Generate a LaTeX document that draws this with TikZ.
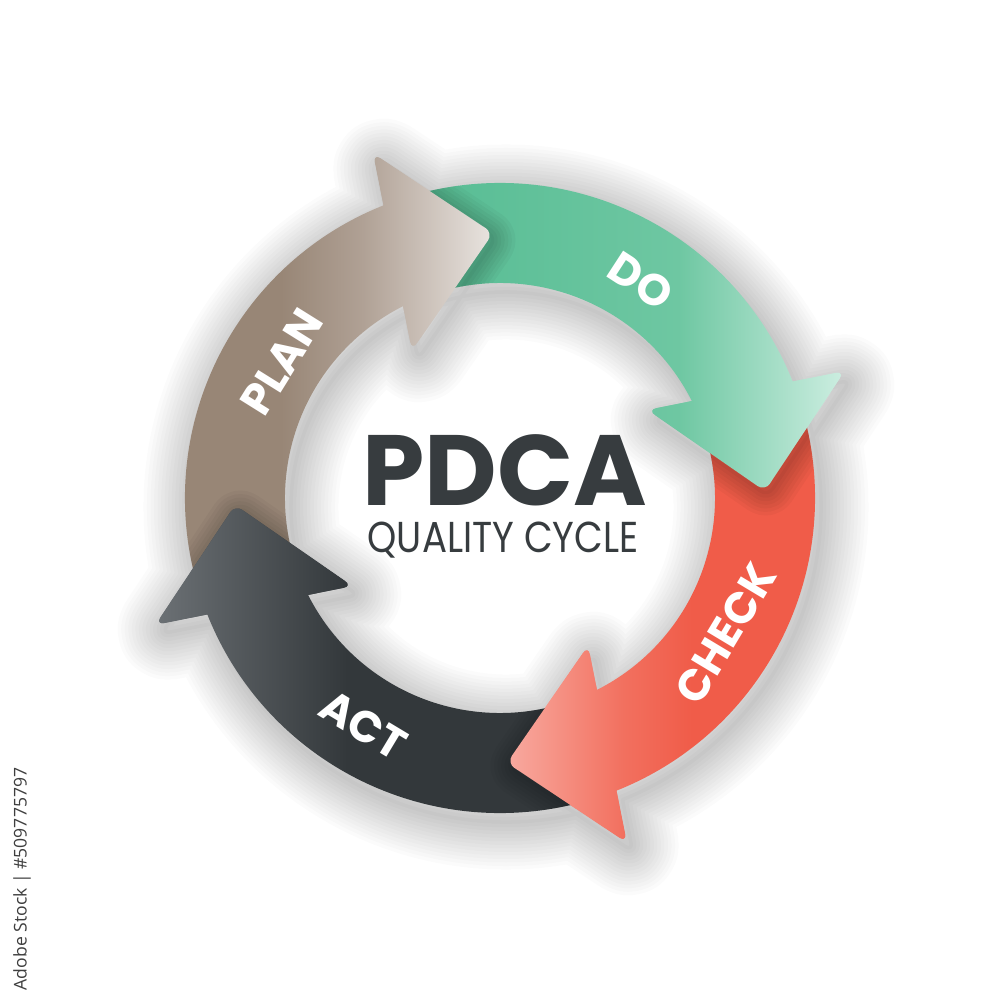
\documentclass[tikz,border=0pt]{standalone}
\usepackage{fontspec}
\usepackage{xcolor}
\usetikzlibrary{calc}
\newfontfamily\popfont{Poppins}
\newfontfamily\popnarrow{Poppins}[FakeStretch=0.86]
\newfontfamily\sidefont{Open Sans}
\definecolor{plandark}{RGB}{152,134,118}
\definecolor{planmid}{RGB}{176,161,149}
\definecolor{planlight}{RGB}{233,228,224}
\definecolor{dogreen}{RGB}{86,188,147}
\definecolor{domid}{RGB}{110,199,162}
\definecolor{dolight}{RGB}{205,238,225}
\definecolor{checkred}{RGB}{240,92,73}
\definecolor{checkmid}{RGB}{242,112,95}
\definecolor{checklight}{RGB}{248,170,160}
\definecolor{actdark}{RGB}{51,56,59}
\definecolor{actlight}{RGB}{108,113,117}
\definecolor{textdark}{RGB}{55,60,63}
\definecolor{sidegray}{RGB}{62,62,62}
\pgfdeclarehorizontalshading{planfill}{100bp}{color(0bp)=(plandark); color(25bp)=(plandark); color(44bp)=(plandark); color(56bp)=(planmid); color(75bp)=(planlight); color(100bp)=(planlight)}
\pgfdeclarehorizontalshading{dofill}{100bp}{color(0bp)=(dogreen); color(25bp)=(dogreen); color(56bp)=(domid); color(75bp)=(dolight); color(100bp)=(dolight)}
\pgfdeclarehorizontalshading{checkfill}{100bp}{color(0bp)=(checklight); color(25bp)=(checklight); color(42bp)=(checkmid); color(52bp)=(checkred); color(75bp)=(checkred); color(100bp)=(checkred)}
\pgfdeclarehorizontalshading{actfill}{100bp}{color(0bp)=(actlight); color(25bp)=(actlight); color(47bp)=(actdark); color(75bp)=(actdark); color(100bp)=(actdark)}
% one ring arrow, #1 = angle offset (PLAN = 0)
\newcommand{\pdcaarrow}[1]{(#1+197:315) arc[start angle=#1+197, end angle=#1+111.7, radius=315]
  [rounded corners=2.5pt] -- (#1+110.2:367) -- (#1+91.5:265) -- (#1+120.8:172) [sharp corners] -- (#1+116.8:215)
  arc[start angle=#1+116.8, end angle=#1+197, radius=215] -- cycle}
% the head alone
\newcommand{\pdcahead}[1]{(#1+111.7:315) [rounded corners=2.5pt] -- (#1+110.2:367) -- (#1+91.5:265) -- (#1+120.8:172) [sharp corners] -- (#1+116.8:215) -- cycle}

\begin{document}
\begin{tikzpicture}[x=0.01cm, y=0.01cm,
    phaselabel/.style={text=white, font=\popfont\bfseries\fontsize{12.5}{13}\selectfont, inner sep=0pt},
    softshadow/.style={black, line join=round}]
  % Canvas
  \fill[white] (-500,-502) rectangle (500,498);
  \useasboundingbox (-500,-502) rectangle (500,498);

  % Soft shadow of the ring
  \begin{scope}[shift={(6,-9)}]
    \foreach \w in {1,3,...,27}
      \draw[softshadow, opacity=0.016, line width=\w pt]
        \pdcaarrow{0} \pdcaarrow{-90} \pdcaarrow{-180} \pdcaarrow{90};
  \end{scope}

  % Arrows
  \shade[shading=planfill] \pdcaarrow{0};
  \shade[shading=dofill] \pdcaarrow{-90};
  \shade[shading=checkfill] \pdcaarrow{-180};
  \shade[shading=actfill] \pdcaarrow{90};

  % Heads on top of the next band
  \foreach \o/\s/\n in {0/planfill/-90, -90/dofill/-180, -180/checkfill/90, 90/actfill/0}{
    \begin{scope}
      \clip \pdcaarrow{\n};
      \foreach \w in {1,3,...,13}
        \draw[softshadow, opacity=0.03, line width=\w pt, shift={(3,-5)}] \pdcahead{\o};
    \end{scope}
    \begin{scope}
      \clip \pdcahead{\o};
      \shade[shading=\s] \pdcaarrow{\o};
    \end{scope}
  }

  % Phase labels
  \node[phaselabel, rotate=58] (plan) at (148:257) {PLAN};
  \node[phaselabel, rotate=-33] (do) at (57:259) {DO};
  \node[phaselabel, rotate=59] (check) at (-31:263) {CHECK};
  \node[phaselabel, rotate=-31] (act) at (239:265) {ACT};

  % Title
  \node[text=textdark, anchor=base, inner sep=0pt, font=\popfont\bfseries\fontsize{28.4}{29}\selectfont] (title) at (5,-7) {PDCA};
  \node[text=textdark, anchor=base, inner sep=0pt, font=\popnarrow\fontsize{12.3}{13}\selectfont] (subtitle) at (3,-54) {QUALITY CYCLE};

  % Stock id
  \node[text=sidegray, rotate=90, anchor=east, inner sep=0pt, font=\sidefont\fontsize{5}{5}\selectfont] (stockid) at (-478,-269) {Adobe Stock | \#509775797};
\end{tikzpicture}
\end{document}
